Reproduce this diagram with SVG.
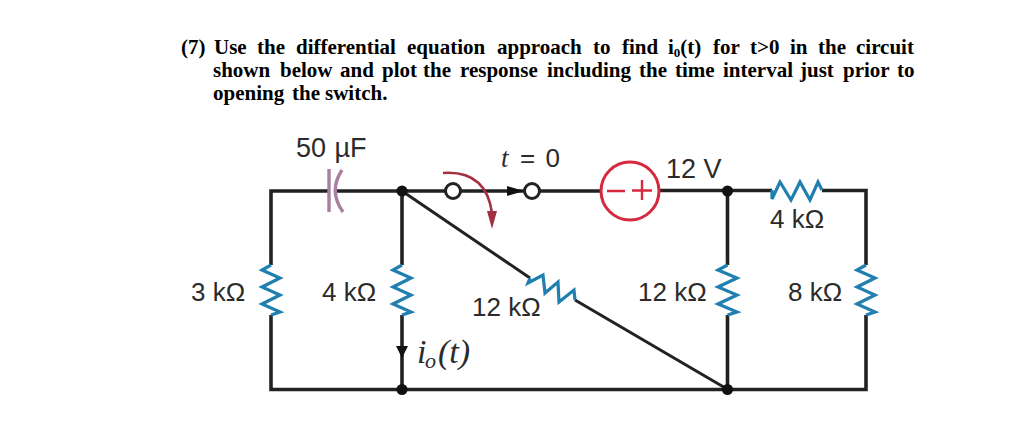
<svg xmlns="http://www.w3.org/2000/svg" width="1024" height="423" viewBox="0 0 1024 423">
<style>
.q{font:bold 21px "Liberation Serif",serif;fill:#000}
.s{font-size:13px}
.l{font:26px "Liberation Sans",Arial,sans-serif;fill:#2b2b2b}
.it{font-family:"Liberation Serif",serif;font-style:italic;fill:#2b2b2b}
.w{fill:none;stroke:#222;stroke-width:3.6;stroke-linejoin:miter}
.dg{fill:none;stroke:#222;stroke-width:3}
.r{fill:none;stroke:#1f7fb0;stroke-width:3.2}
.d{fill:#111}
.c{fill:none;stroke:#a87fa0;stroke-width:3.4}
</style>
<rect width="1024" height="423" fill="#fff"/>
<g id="question">
<text class="q" x="181" y="54">(7)</text>
<text class="q" y="54"><tspan x="214">Use</tspan><tspan x="257">the</tspan><tspan x="296">differential</tspan><tspan x="407">equation</tspan><tspan x="497">approach</tspan><tspan x="593">to</tspan><tspan x="622">find</tspan><tspan x="668">i</tspan><tspan class="s" dy="3">0</tspan><tspan dy="-3">(t)</tspan><tspan x="713">for</tspan><tspan x="750">t&gt;0</tspan><tspan x="790">in</tspan><tspan x="818">the</tspan><tspan x="856">circuit</tspan></text>
<text class="q" y="77"><tspan x="213">shown</tspan><tspan x="280">below</tspan><tspan x="340">and</tspan><tspan x="382">plot</tspan><tspan x="423">the</tspan><tspan x="460">response</tspan><tspan x="547">including</tspan><tspan x="639">the</tspan><tspan x="675">time</tspan><tspan x="723">interval</tspan><tspan x="800">just</tspan><tspan x="843">prior</tspan><tspan x="897">to</tspan></text>
<text class="q" y="100"><tspan x="213">opening</tspan><tspan x="292">the</tspan><tspan x="325">switch.</tspan></text>
</g>
<g id="connectors">
<path class="w" d="M329 191H271V265M271 315V389.500H866V315M866 265V190.500H822M772 190.500H660M600 191H335"/>
<path class="w" d="M402 191V265M402 315V389.500M727.500 191V265M727.500 315V389.500"/>
<path class="dg" d="M402 191L530 278M575 300L727 389"/>
</g>
<g id="capacitor">
<line class="c" x1="329" y1="169" x2="329" y2="212"/>
<path class="c" d="M342 170Q328 191 343 212"/>
<text class="l" x="296" y="157" word-spacing="1" font-size="27" style="font-size:27px">50 µF</text>
</g>
<g id="switch">
<circle cx="453" cy="191" r="7.5" fill="#fff" stroke="#222" stroke-width="3"/>
<path class="d" d="M507 186L524 191L507 196Z"/>
<circle cx="532" cy="191" r="7.5" fill="#fff" stroke="#222" stroke-width="3"/>
<path d="M443 173Q486 170 492 213" fill="none" stroke="#a33040" stroke-width="2.6"/>
<path d="M487 211L497 211L492 229Z" fill="#a33040"/>
<text class="it" x="501" y="167" font-size="27">t</text>
<text class="l" x="520" y="167" style="word-spacing:3px">= 0</text>
</g>
<g id="source">
<circle cx="630" cy="191" r="29" fill="#fff" stroke="#d6293e" stroke-width="3"/>
<path d="M607 191H625M632 190.500H652M642 180V200" fill="none" stroke="#d6293e" stroke-width="2.4"/>
<text class="l" x="666" y="178" style="font-size:27px">12 V</text>
</g>
<g id="r1">
<path class="r" d="M772 190L772 199L780 182L791 200L800 182L810 200L818 182L822 190"/>
<text class="l" x="770" y="228">4 kΩ</text>
</g>
<g id="r2">
<path class="r" d="M271 265L262 270L280 278L262 287L280 295L262 304L280 312L271 315"/>
<text class="l" x="191" y="301">3 kΩ</text>
</g>
<g id="r3">
<path class="r" d="M402 265L393 270L411 278L393 287L411 295L393 304L411 312L402 315"/>
<text class="l" x="322" y="301">4 kΩ</text>
</g>
<g id="r4">
<path class="r" d="M530 278L528 283L543 275L545 293L558 282L559 302L574 290L575 300"/>
<text class="l" x="472" y="316">12 kΩ</text>
</g>
<g id="r5">
<path class="r" d="M727.500 265L718 270L737 278L718 287L737 295L718 304L737 312L727.500 315"/>
<text class="l" x="638" y="301">12 kΩ</text>
</g>
<g id="r6">
<path class="r" d="M866 265L857 270L875 278L857 287L875 295L857 304L875 312L866 315"/>
<text class="l" x="788" y="301">8 kΩ</text>
</g>
<g id="current">
<path class="d" d="M396 346L408 346L402 358Z"/>
<text class="it" y="363" font-size="34"><tspan x="417">i</tspan><tspan x="425" dy="5" font-size="22">o</tspan><tspan x="438" dy="-5">(t)</tspan></text>
</g>
<g id="junctions">
<circle class="d" cx="402" cy="191" r="5.5"/>
<circle class="d" cx="727.500" cy="191" r="5.5"/>
<circle class="d" cx="402" cy="389.500" r="5.5"/>
<circle class="d" cx="727.500" cy="389.500" r="5.5"/>
</g>
</svg>
